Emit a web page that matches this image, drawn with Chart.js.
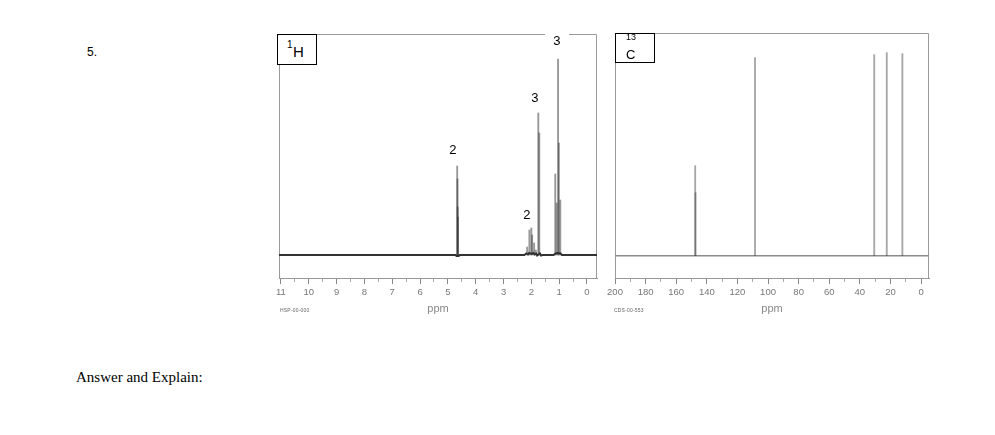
<!DOCTYPE html>
<html lang="en">
<head>
  <meta charset="UTF-8" />
  <title>NMR spectra - question 5</title>
  <style>
    * {
      margin: 0;
      padding: 0;
      box-sizing: border-box;
    }

    body {
      width: 995px;
      height: 435px;
      background: #fff;
      position: relative;
      overflow: hidden;
      font-family: 'Liberation Sans', Arial, sans-serif;
    }

    canvas {
      position: absolute;
    }

    .num {
      position: absolute;
      left: 87px;
      top: 45px;
      font-size: 12px;
    }

    .answer {
      position: absolute;
      left: 76px;
      top: 369px;
      font-family: 'Liberation Serif', 'Times New Roman', serif;
      font-size: 15px;
    }

    .nucleus {
      position: absolute;
      border: 1px solid #000;
      background: #fff;
    }

    .nucleus span {
      position: absolute;
      line-height: 1;
    }

    .code {
      position: absolute;
      font-size: 5px;
      color: #666;
      letter-spacing: 0.2px;
    }
  </style>
</head>
<body>
  <div class="num">5.</div>

  <canvas id="hChart" width="358" height="294" style="left:259px; top:24px;"></canvas>
  <canvas id="cChart" width="354" height="295" style="left:590px; top:23px;"></canvas>

  <div class="nucleus" style="left:277px; top:34px; width:40px; height:31px;">
    <span style="left:9px; top:5px; font-size:10px;">1</span>
    <span style="left:15px; top:9px; font-size:15px;">H</span>
  </div>
  <div class="nucleus" style="left:615px; top:33px; width:40px; height:30px;">
    <span style="left:10px; top:-1px; font-size:9px;">13</span>
    <span style="left:10px; top:14px; font-size:13px;">C</span>
  </div>

  <div class="code" style="left:280px; top:307px;">HSP-00-000</div>
  <div class="code" style="left:614px; top:307px;">CDS-00-553</div>

  <div class="answer">Answer and Explain:</div>

  <script src="https://cdn.jsdelivr.net/npm/chart.js"></script>
  <script>
    // 1H spectrum: individual lines (ppm) and their heights
    const hShifts = [4.665, 4.655, 4.645, 4.635, 2.15, 2.07, 2.00, 1.97, 1.90, 1.84, 1.75, 1.715, 1.14, 1.09, 1.04, 1.01, 0.96];
    const hHeights = [89, 76, 48, 38, 8, 25, 27, 20, 12, 5, 142, 122, 81, 52, 196, 112, 55];

    // 1H baseline (small wiggles around the multiplets)
    const hBaseShifts = [11.07, 4.72, 4.69, 4.61, 4.58, 2.25, 2.18, 2.12, 2.08, 2.0, 1.93, 1.88, 1.83, 1.79, 1.69, 1.65, 1.6, 1.2, 1.13, 1.05, 0.95, 0.9, -0.36];
    const hBaseValues = [0, 0, -1, -1, 0, 0, 1.5, 0.5, 2, 1, 2, 0.5, 1.5, -0.5, 1.5, -0.5, 0, 0, 1.5, 2, 1.5, 0, 0];

    // integration labels
    const hLabelShifts = [4.82, 2.16, 1.87, 1.08];
    const hLabelHeights = [105, 40, 157, 214];
    const hLabelTexts = ['2', '2', '3', '3'];

    // 13C spectrum
    const cShifts = [147.6, 147.4, 108.5, 30.6, 22.4, 12.2];
    const cHeights = [90, 63, 198, 201, 203, 202];
    const cBaseShifts = [200, -5.2];
    const cBaseValues = [0, 0];

    function toPoints(xs, ys) {
      return xs.map((x, i) => ({ x: x, y: ys[i] }));
    }

    const framePlugin = {
      id: 'frame',
      beforeDatasetsDraw(chart) {
        const { left, top, right, bottom } = chart.chartArea;
        const ctx = chart.ctx;
        ctx.save();
        ctx.strokeStyle = '#9a9a9a';
        ctx.lineWidth = 1;
        ctx.beginPath();
        ctx.moveTo(left + 0.5, bottom);
        ctx.lineTo(left + 0.5, top + 0.5);
        ctx.lineTo(right - 0.5, top + 0.5);
        ctx.lineTo(right - 0.5, bottom);
        ctx.stroke();
        ctx.restore();
      }
    };

    function labelPlugin(shifts, heights, texts) {
      return {
        id: 'peakLabels',
        afterDatasetsDraw(chart) {
          const { ctx, chartArea } = chart;
          const x = chart.scales.x, y = chart.scales.y;
          ctx.save();
          ctx.font = '13px "Liberation Sans", Arial, sans-serif';
          ctx.textAlign = 'center';
          ctx.textBaseline = 'middle';
          shifts.forEach((s, i) => {
            const px = x.getPixelForValue(s);
            const py = y.getPixelForValue(heights[i]);
            if (py < chartArea.top + 15) {
              ctx.fillStyle = '#fff';
              ctx.fillRect(px - 12, chartArea.top - 4, 24, 18);
            }
            ctx.fillStyle = '#000';
            ctx.fillText(texts[i], px, py);
          });
          ctx.restore();
        }
      };
    }

    function xAxis(min, max, step, labelEvery) {
      return {
        type: 'linear',
        reverse: true,
        min: min,
        max: max,
        offset: false,
        afterBuildTicks: s => {
          s.ticks = s.ticks.filter(t => Math.abs(t.value / step - Math.round(t.value / step)) < 1e-6);
        },
        afterFit: s => { s.height = 40; },
        border: { display: true, color: '#999', width: 1 },
        grid: {
          display: true,
          offset: false,
          drawOnChartArea: false,
          drawTicks: true,
          tickLength: 6,
          tickColor: c => Math.abs(c.tick.value / labelEvery - Math.round(c.tick.value / labelEvery)) < 1e-6 ? '#888' : '#aaa',
          tickBorderDash: c => Math.abs(c.tick.value / labelEvery - Math.round(c.tick.value / labelEvery)) < 1e-6 ? [] : [3, 20]
        },
        ticks: {
          stepSize: step,
          autoSkip: false,
          includeBounds: false,
          maxRotation: 0,
          padding: 3,
          color: '#777',
          font: { family: '"Liberation Sans", Arial, sans-serif', size: 9.5 },
          callback: v => Math.abs(v / labelEvery - Math.round(v / labelEvery)) < 1e-6 ? String(Math.round(v)) : ''
        },
        title: {
          display: true,
          text: 'ppm',
          color: '#888',
          padding: { top: 0, bottom: 2 },
          font: { family: '"Liberation Sans", Arial, sans-serif', size: 11 }
        }
      };
    }

    function buildChart(id, cfg) {
      return new Chart(document.getElementById(id).getContext('2d'), {
        type: 'bar',
        data: {
          datasets: [
            {
              type: 'line',
              data: toPoints(cfg.baseX, cfg.baseY),
              borderColor: cfg.baseColor,
              borderWidth: cfg.baseWidth,
              pointRadius: 0,
              tension: 0,
              order: 2
            },
            {
              type: 'bar',
              data: toPoints(cfg.shifts, cfg.heights),
              backgroundColor: cfg.barColor,
              barThickness: cfg.barWidth,
              grouped: false,
              order: 1
            }
          ]
        },
        options: {
          responsive: false,
          animation: false,
          layout: { padding: cfg.padding },
          plugins: {
            legend: { display: false },
            tooltip: { enabled: false }
          },
          scales: {
            x: cfg.x,
            y: { display: false, min: cfg.yMin, max: cfg.yMax }
          }
        },
        plugins: [framePlugin].concat(cfg.extra || [])
      });
    }

    buildChart('hChart', {
      shifts: hShifts,
      heights: hHeights,
      baseX: hBaseShifts,
      baseY: hBaseValues,
      baseColor: '#333',
      baseWidth: 2,
      barColor: 'rgba(50,50,50,0.5)',
      barWidth: 1.2,
      padding: { left: 20, right: 20, top: 10, bottom: 0 },
      x: xAxis(-0.36, 11.07, 0.5, 1),
      yMin: -23,
      yMax: 221,
      extra: [labelPlugin(hLabelShifts, hLabelHeights, hLabelTexts)]
    });

    buildChart('cChart', {
      shifts: cShifts,
      heights: cHeights,
      baseX: cBaseShifts,
      baseY: cBaseValues,
      baseColor: '#8c8c8c',
      baseWidth: 1.5,
      barColor: 'rgba(60,60,60,0.45)',
      barWidth: 1.2,
      padding: { left: 25, right: 15, top: 10, bottom: 0 },
      x: xAxis(-5.2, 200, 10, 20),
      yMin: -22.3,
      yMax: 222.7
    });
  </script>
</body>
</html>
